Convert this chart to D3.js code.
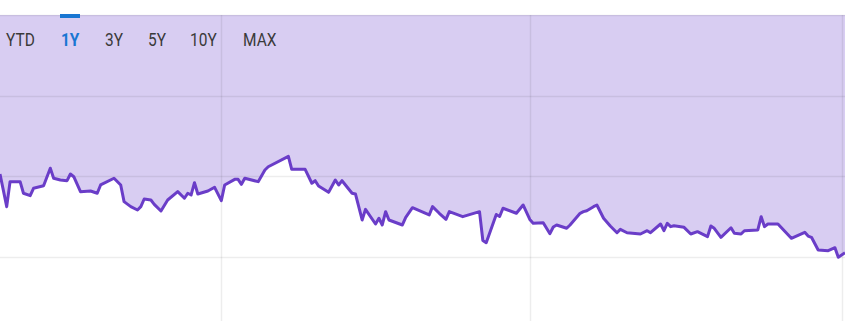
<!DOCTYPE html>
<html>
<head>
<meta charset="utf-8">
<script src="https://cdn.jsdelivr.net/npm/d3@7"></script>
<style>
  body { margin: 0; background: #fff; }
  svg { display: block; }
  .btn { font-family: Roboto, "Noto Sans", sans-serif; font-size: 18px; fill: #3a3a3a; }
  .btn.active { fill: #1976d2; font-weight: 700; }
</style>
</head>
<body>
<div id="chart"></div>
<script>
var w = 845,
    h = 321,
    m = [15, 0, 64, 0]; // top right bottom left

// trading session index (about one year) and closing value
var sessions = [0, 2, 3, 6, 7, 9, 10, 13, 15, 16, 18, 20, 21, 22, 24, 27, 29, 30, 34, 36,
  37, 39, 41, 42, 43, 45, 46, 48, 50, 53, 55, 56, 57, 58, 59, 62, 64, 66, 67, 70,
  71, 72, 73, 77, 79, 80, 86, 87, 91, 93, 94, 95, 98, 100, 101, 102, 105, 106, 108, 109,
  112, 113, 114, 115, 116, 120, 121, 123, 128, 129, 131, 133, 134, 138, 143, 144, 145, 148, 149, 150,
  154, 156, 158, 159, 162, 164, 165, 166, 169, 170, 173, 174, 175, 177, 178, 180, 182, 184, 185, 187,
  191, 193, 194, 197, 198, 199, 200, 201, 204, 206, 208, 211, 212, 213, 215, 218, 219, 221, 222, 226,
  227, 228, 229, 232, 236, 240, 241, 242, 244, 247, 249, 250, 252];
var values = [20.29, 16.24, 19.34, 19.34, 17.90, 17.60, 18.52, 18.84, 21.00, 19.76, 19.55, 19.46, 20.29, 19.95, 18.10, 18.18, 17.90, 18.93, 19.76, 18.93,
  16.86, 16.24, 15.83, 16.24, 17.19, 17.07, 16.53, 15.70, 17.07, 18.10, 17.28, 17.90, 17.69, 19.21, 17.81, 18.18, 18.64, 16.98, 18.93, 19.63,
  19.63, 19.01, 19.76, 19.34, 20.79, 21.19, 22.48, 20.87, 20.87, 19.14, 19.46, 18.80, 18.02, 19.55, 18.93, 19.46, 17.90, 17.81, 14.59, 15.91,
  14.09, 14.80, 13.97, 15.62, 14.59, 13.97, 14.92, 16.11, 15.21, 16.24, 15.42, 14.67, 15.62, 15.00, 15.62, 12.05, 11.77, 15.27, 15.02, 16.04,
  15.42, 16.45, 14.65, 14.18, 14.25, 12.89, 13.72, 13.97, 13.56, 13.97, 15.42, 15.62, 15.74, 16.24, 16.45, 14.80, 13.84, 13.01, 13.43, 13.01,
  12.85, 13.26, 13.01, 14.09, 13.26, 14.18, 13.76, 13.88, 13.68, 12.85, 13.14, 12.52, 13.84, 13.56, 12.44, 13.63, 12.94, 12.85, 13.26, 13.35,
  15.00, 13.76, 14.09, 14.09, 12.32, 13.06, 12.60, 12.44, 10.87, 10.78, 11.15, 9.96, 10.53];

var yTicks = [10, 20, 30, 40];
var xTicks = [66, 158, 251];
var ranges = ["YTD", "1Y", "3Y", "5Y", "10Y", "MAX"];
var activeRange = "1Y";
var btnX = [6, 61, 105, 148, 190, 243]; // layout only

var data = sessions.map(function(s, i) { return { s: s, v: values[i] }; });

var x = d3.scaleLinear().domain([0, 252]).range([m[3], w - m[1]]);
var y = d3.scaleLinear().domain([10, 40]).range([h - m[2], m[0]]);

var svg = d3.select("#chart").append("svg")
    .attr("width", w)
    .attr("height", h);

var area = d3.area()
    .x(function(d) { return x(d.s); })
    .y0(y(40))
    .y1(function(d) { return y(d.v); });

svg.append("path")
    .datum(data)
    .attr("d", area)
    .attr("fill", "#d8cdf2");

// grid
svg.append("g").selectAll("line")
    .data(yTicks)
  .enter().append("line")
    .attr("x1", 0).attr("x2", w)
    .attr("y1", function(d) { return Math.round(y(d)) + 0.5; })
    .attr("y2", function(d) { return Math.round(y(d)) + 0.5; })
    .attr("stroke", "rgba(0,0,0,0.07)")
    .attr("stroke-width", 1.5);

svg.append("g").selectAll("line")
    .data(xTicks)
  .enter().append("line")
    .attr("y1", y(40)).attr("y2", h)
    .attr("x1", function(d) { return Math.round(x(d)) + 0.5; })
    .attr("x2", function(d) { return Math.round(x(d)) + 0.5; })
    .attr("stroke", "rgba(0,0,0,0.07)")
    .attr("stroke-width", 1.5);

var line = d3.line()
    .x(function(d) { return x(d.s); })
    .y(function(d) { return y(d.v); });

svg.append("path")
    .datum(data)
    .attr("d", line)
    .attr("fill", "none")
    .attr("stroke", "#6a3dc8")
    .attr("stroke-width", 3)
    .attr("stroke-linejoin", "round");

// range buttons
var btn = svg.append("g").selectAll("g")
    .data(ranges)
  .enter().append("g")
    .attr("transform", function(d, i) { return "translate(" + btnX[i] + ",0)"; });

btn.append("text")
    .attr("class", function(d) { return d == activeRange ? "btn active" : "btn"; })
    .attr("transform", "scale(0.86,1)")
    .attr("y", 46)
    .text(function(d) { return d; });

btn.filter(function(d) { return d == activeRange; })
  .append("rect")
    .attr("x", -1).attr("y", 14)
    .attr("width", 20).attr("height", 4)
    .attr("fill", "#1976d2");
</script>
</body>
</html>
